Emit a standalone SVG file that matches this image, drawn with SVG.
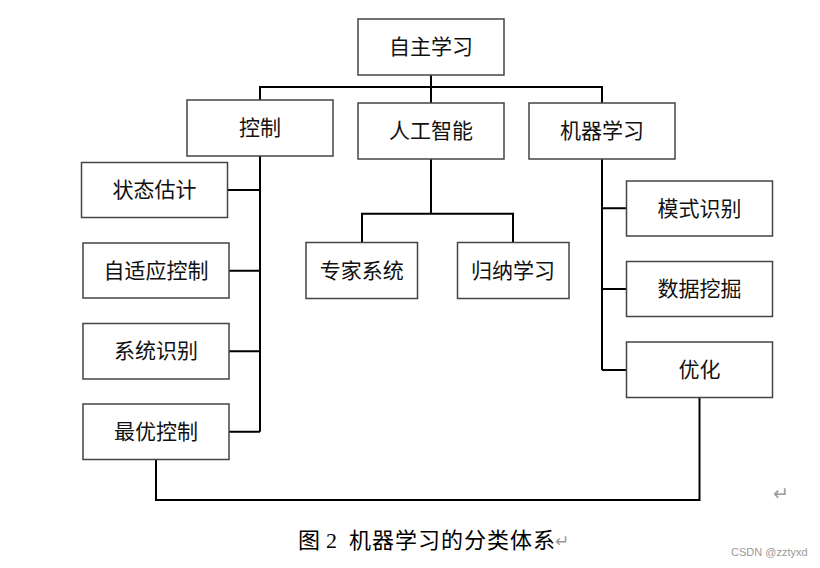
<svg xmlns="http://www.w3.org/2000/svg" width="820" height="568" viewBox="0 0 820 568">
<style>
.box{fill:#fff;stroke:#444;stroke-width:1.5}
.lbl{font-family:"Noto Sans CJK SC","Noto Sans",sans-serif;font-size:21px;fill:#111;text-anchor:middle;dominant-baseline:central}
.con{fill:none;stroke:#000;stroke-width:2}
.mark{font-family:"DejaVu Sans",sans-serif;fill:#999}
</style>
<rect width="820" height="568" fill="#fff"/>
<g id="connectors">
<path class="con" d="M431,75V103M260,100V87H602V103"/>
<path class="con" d="M260,156V431.7M227.5,190H260M228.7,270.7H260M228.7,351.3H260M228.7,431.7H260"/>
<path class="con" d="M431,159V213.7M362,242.5V213.7H513V242.5"/>
<path class="con" d="M602,159V370M602,208.3H626.5M602,289H626.5M602,370H626.5"/>
<path class="con" d="M156,459.5V500H699.5V397.5"/>
</g>
<g id="n-zizhu"><rect class="box" x="358" y="19" width="146" height="56"/><text class="lbl" x="431" y="45">自主学习</text></g>
<g id="n-kongzhi"><rect class="box" x="187" y="100" width="146" height="56"/><text class="lbl" x="260" y="125.5">控制</text></g>
<g id="n-rengong"><rect class="box" x="358" y="103" width="146" height="56"/><text class="lbl" x="431" y="129">人工智能</text></g>
<g id="n-jiqi"><rect class="box" x="529" y="103" width="146" height="56"/><text class="lbl" x="602" y="129">机器学习</text></g>
<g id="n-zhuangtai"><rect class="box" x="81.5" y="162.5" width="146" height="55"/><text class="lbl" x="154.5" y="188">状态估计</text></g>
<g id="n-zishiying"><rect class="box" x="83" y="243" width="146" height="55"/><text class="lbl" x="156" y="268.5">自适应控制</text></g>
<g id="n-xitong"><rect class="box" x="83" y="323.5" width="146" height="55.5"/><text class="lbl" x="156" y="349">系统识别</text></g>
<g id="n-zuiyou"><rect class="box" x="83" y="404" width="146" height="55.5"/><text class="lbl" x="156" y="429.7">最优控制</text></g>
<g id="n-zhuanjia"><rect class="box" x="306" y="242.5" width="111.5" height="56"/><text class="lbl" x="361.7" y="268.5">专家系统</text></g>
<g id="n-guina"><rect class="box" x="457.5" y="242.5" width="111.5" height="56"/><text class="lbl" x="513" y="268.5">归纳学习</text></g>
<g id="n-moshi"><rect class="box" x="626.5" y="181" width="146" height="55"/><text class="lbl" x="699.5" y="206.5">模式识别</text></g>
<g id="n-shuju"><rect class="box" x="626.5" y="261.5" width="146" height="55"/><text class="lbl" x="699.5" y="287">数据挖掘</text></g>
<g id="n-youhua"><rect class="box" x="626.5" y="342" width="146" height="55.5"/><text class="lbl" x="699.5" y="367.8">优化</text></g>
<text class="mark" x="773" y="500" font-size="19">↵</text>
<text x="298" y="548" font-family="'Noto Sans CJK SC','Noto Sans',sans-serif" font-size="22" fill="#000">图</text>
<text x="326" y="548" font-family="'Liberation Serif',serif" font-size="22" fill="#000">2</text>
<text x="349" y="548" font-family="'Noto Sans CJK SC','Noto Sans',sans-serif" font-size="22" fill="#000" textLength="206" lengthAdjust="spacing">机器学习的分类体系</text>
<text class="mark" x="555" y="547" font-size="17">↵</text>
<text x="731" y="556" font-family="'Liberation Sans',sans-serif" font-size="11" fill="#999">CSDN @zztyxd</text>
</svg>
